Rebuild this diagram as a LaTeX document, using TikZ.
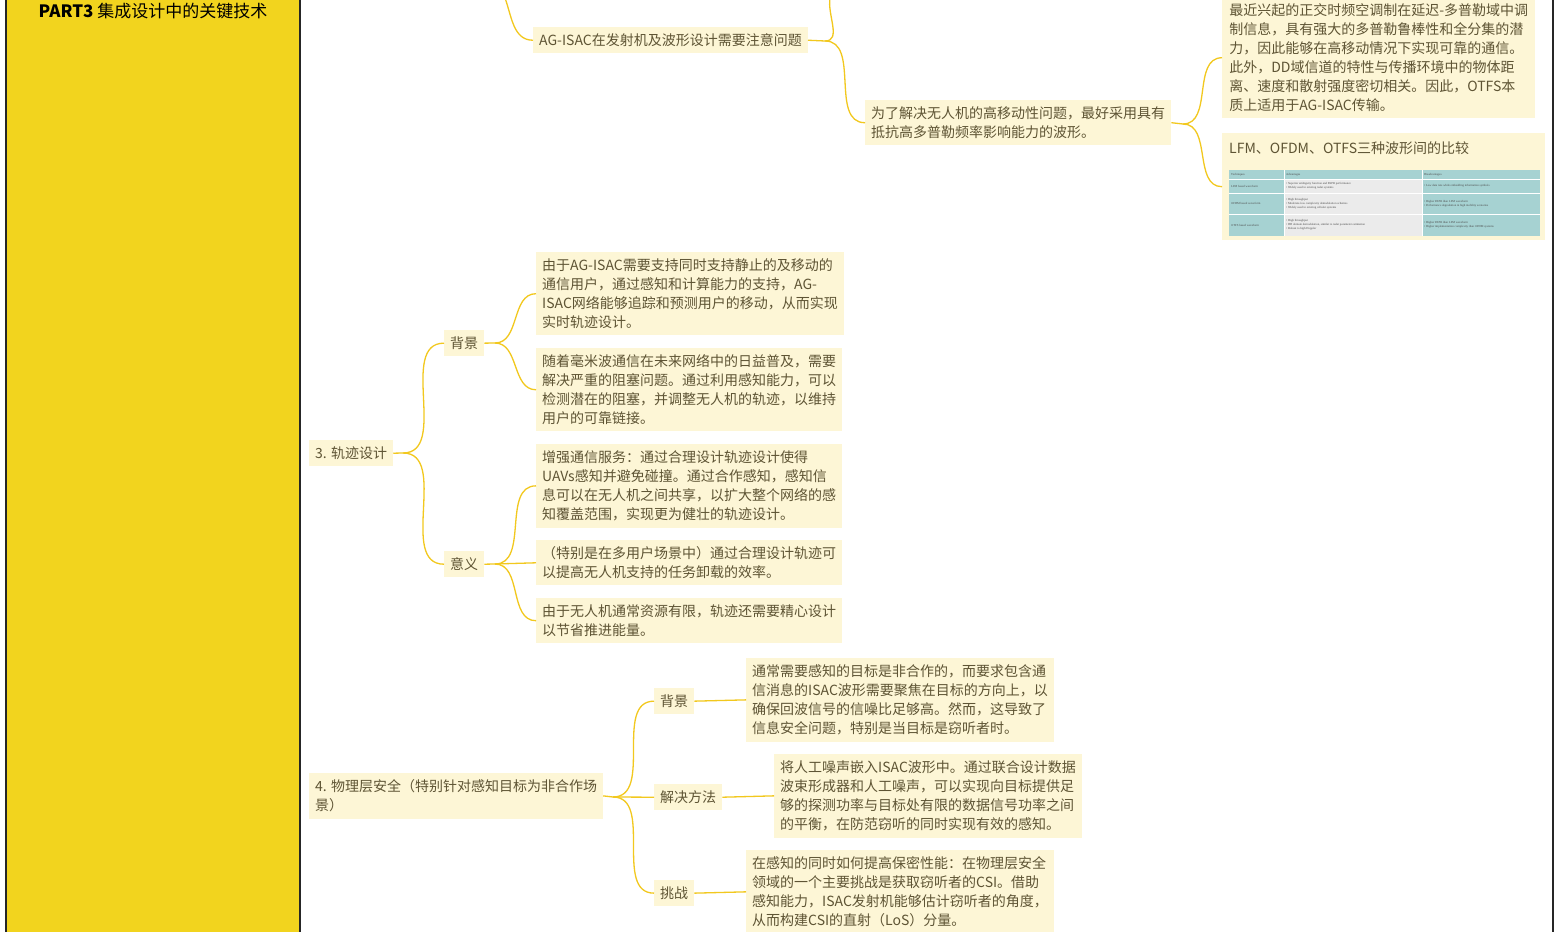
\documentclass[tikz,border=0pt]{standalone}
\usepackage{fontspec}
\setmainfont{Noto Sans CJK SC}
\newfontfamily\tabfont{Liberation Serif}
\XeTeXlinebreaklocale "zh"
\XeTeXlinebreakskip=0pt plus 1pt
\begin{document}
\begin{tikzpicture}[x=1pt,y=-1pt,
  bx/.style={fill=nodefill,anchor=north west,align=left,inner xsep=6pt,inner ysep=6.5pt,text=txt,font=\fontsize{14}{19}\selectfont},
  ln/.style={draw=lin,line width=1.3pt},
  tt/.style={font=\tabfont\fontsize{3}{4}\selectfont,anchor=west,align=left,inner sep=1pt,text=black!70}]
\definecolor{nodefill}{HTML}{FDF6D6}
\definecolor{txt}{HTML}{5E5434}
\definecolor{lin}{HTML}{F2C81E}
\definecolor{panel}{HTML}{F2D41E}
\useasboundingbox (0,0) rectangle (1557,931);
\fill[white] (0,0) rectangle (1557,931);
\fill[panel] (6,-2) rectangle (300,933);
\draw[line width=1.5pt,black!85] (6,-2) -- (6,933) (300,-2) -- (300,933);
\draw[line width=1.5pt,black!85] (1553,-2) -- (1553,933);
\node[font=\fontsize{17}{20}\selectfont,anchor=north] (part) at (153,0) {\textbf{PART3} 集成设计中的关键技术};

% top branch
\coordinate (topin) at (505,-2);
\coordinate (topout) at (830,-2);
\node[bx] (ag) at (533,27) {AG-ISAC在发射机及波形设计需要注意问题};
\node[bx] (hm) at (865,100) {为了解决无人机的高移动性问题，最好采用具有\\抵抗高多普勒频率影响能力的波形。};
\node[bx,minimum width=313pt] (ot) at (1222,-3) {最近兴起的正交时频空调制在延迟-多普勒域中调\\制信息，具有强大的多普勒鲁棒性和全分集的潜\\力，因此能够在高移动情况下实现可靠的通信。\\此外，DD域信道的特性与传播环境中的物体距\\离、速度和散射强度密切相关。因此，OTFS本\\质上适用于AG-ISAC传输。};
\node[fill=nodefill,anchor=north west,minimum width=323pt,minimum height=107pt] (lfm) at (1222,133) {};
\node[anchor=west,text=txt,font=\fontsize{14}{19}\selectfont,inner sep=0pt] (lfmt) at (1229,148) {LFM、OFDM、OTFS三种波形间的比较};
% table
\fill[black!8] (1229,170) rectangle (1540,236);
\fill[teal!35] (1229,170) rectangle (1540,179);
\fill[teal!35] (1229,179) rectangle (1284,236);
\fill[teal!35] (1422,179) rectangle (1540,236);
\draw[white,line width=0.6pt] (1229,179) -- (1540,179) (1229,193) -- (1540,193) (1229,214) -- (1540,214) (1284,170) -- (1284,236) (1422,170) -- (1422,236);
\node[tt] (h1) at (1230,174.5) {Techniques};
\node[tt] (h2) at (1285,174.5) {Advantages};
\node[tt] (h3) at (1423,174.5) {Disadvantages};
\node[tt] (r1a) at (1230,186) {LFM based waveform};
\node[tt] (r1b) at (1285,186) {• Superior ambiguity function and PAPR performance\\• Widely used in existing radar systems};
\node[tt] (r1c) at (1423,186) {• Low data rate while embedding information symbols};
\node[tt] (r2a) at (1230,203.5) {OFDM based waveform};
\node[tt] (r2b) at (1285,203.5) {• High throughput\\• Moderate-low complexity demodulation schemes\\• Widely used in existing cellular systems};
\node[tt] (r2c) at (1423,203.5) {• Higher PAPR than LFM waveform\\• Performance degradation in high mobility scenarios};
\node[tt] (r3a) at (1230,225) {OTFS based waveform};
\node[tt] (r3b) at (1285,225) {• High throughput\\• DD domain demodulation, similar to radar parameter estimation\\• Robust to high Doppler};
\node[tt] (r3c) at (1423,225) {• Higher PAPR than LFM waveform\\• Higher implementation complexity than OFDM systems};

\coordinate (s1) at (825,41);
\coordinate (s2) at (1183,124);
\draw[ln] (topin) to[out=-70,in=180] (ag.west);
\draw[ln] (ag.east) -- (s1);
\draw[ln] (s1) to[out=0,in=-100] (topout);
\draw[ln] (s1) to[out=0,in=180] (hm.west);
\draw[ln] (hm.east) -- (s2);
\draw[ln] (s2) to[out=0,in=180] (ot.west);
\draw[ln] (s2) to[out=0,in=180] (lfm.west);

% section 3
\node[bx] (g3) at (309,440) {3. 轨迹设计};
\node[bx] (bj) at (444,330) {背景};
\node[bx] (yy) at (444,551) {意义};
\node[bx] (b1) at (536,252) {由于AG-ISAC需要支持同时支持静止的及移动的\\通信用户，通过感知和计算能力的支持，AG-\\ISAC网络能够追踪和预测用户的移动，从而实现\\实时轨迹设计。};
\node[bx] (b2) at (536,348) {随着毫米波通信在未来网络中的日益普及，需要\\解决严重的阻塞问题。通过利用感知能力，可以\\检测潜在的阻塞，并调整无人机的轨迹，以维持\\用户的可靠链接。};
\node[bx] (y1) at (536,444) {增强通信服务：通过合理设计轨迹设计使得\\UAVs感知并避免碰撞。通过合作感知，感知信\\息可以在无人机之间共享，以扩大整个网络的感\\知覆盖范围，实现更为健壮的轨迹设计。};
\node[bx] (y2) at (536,540) {（特别是在多用户场景中）通过合理设计轨迹可\\以提高无人机支持的任务卸载的效率。};
\node[bx] (y3) at (536,598) {由于无人机通常资源有限，轨迹还需要精心设计\\以节省推进能量。};
\coordinate (s3) at (403,453);
\coordinate (s4) at (495,343);
\coordinate (s5) at (495,564);
\draw[ln] (g3.east) -- (s3);
\draw[ln] (s3) to[out=0,in=180] (bj.west);
\draw[ln] (s3) to[out=0,in=180] (yy.west);
\draw[ln] (bj.east) -- (s4);
\draw[ln] (s4) to[out=0,in=180] (b1.west);
\draw[ln] (s4) to[out=0,in=180] (b2.west);
\draw[ln] (yy.east) -- (s5);
\draw[ln] (s5) to[out=0,in=180] (y1.west);
\draw[ln] (s5) -- (y2.west);
\draw[ln] (s5) to[out=0,in=180] (y3.west);

% section 4
\node[bx] (g4) at (309,773) {4. 物理层安全（特别针对感知目标为非合作场\\景）};
\node[bx] (bj4) at (654,688) {背景};
\node[bx] (jj) at (654,784) {解决方法};
\node[bx] (tz) at (654,880) {挑战};
\node[bx] (c1) at (746,658) {通常需要感知的目标是非合作的，而要求包含通\\信消息的ISAC波形需要聚焦在目标的方向上，以\\确保回波信号的信噪比足够高。然而，这导致了\\信息安全问题，特别是当目标是窃听者时。};
\node[bx] (c2) at (774,754) {将人工噪声嵌入ISAC波形中。通过联合设计数据\\波束形成器和人工噪声，可以实现向目标提供足\\够的探测功率与目标处有限的数据信号功率之间\\的平衡，在防范窃听的同时实现有效的感知。};
\node[bx] (c3) at (746,850) {在感知的同时如何提高保密性能：在物理层安全\\领域的一个主要挑战是获取窃听者的CSI。借助\\感知能力，ISAC发射机能够估计窃听者的角度，\\从而构建CSI的直射（LoS）分量。};
\coordinate (s6) at (613,797);
\draw[ln] (g4.east) -- (s6);
\draw[ln] (s6) to[out=0,in=180] (bj4.west);
\draw[ln] (s6) -- (jj.west);
\draw[ln] (s6) to[out=0,in=180] (tz.west);
\draw[ln] (bj4.east) -- (c1.west);
\draw[ln] (jj.east) -- (c2.west);
\draw[ln] (tz.east) -- (c3.west);
\end{tikzpicture}
\end{document}
